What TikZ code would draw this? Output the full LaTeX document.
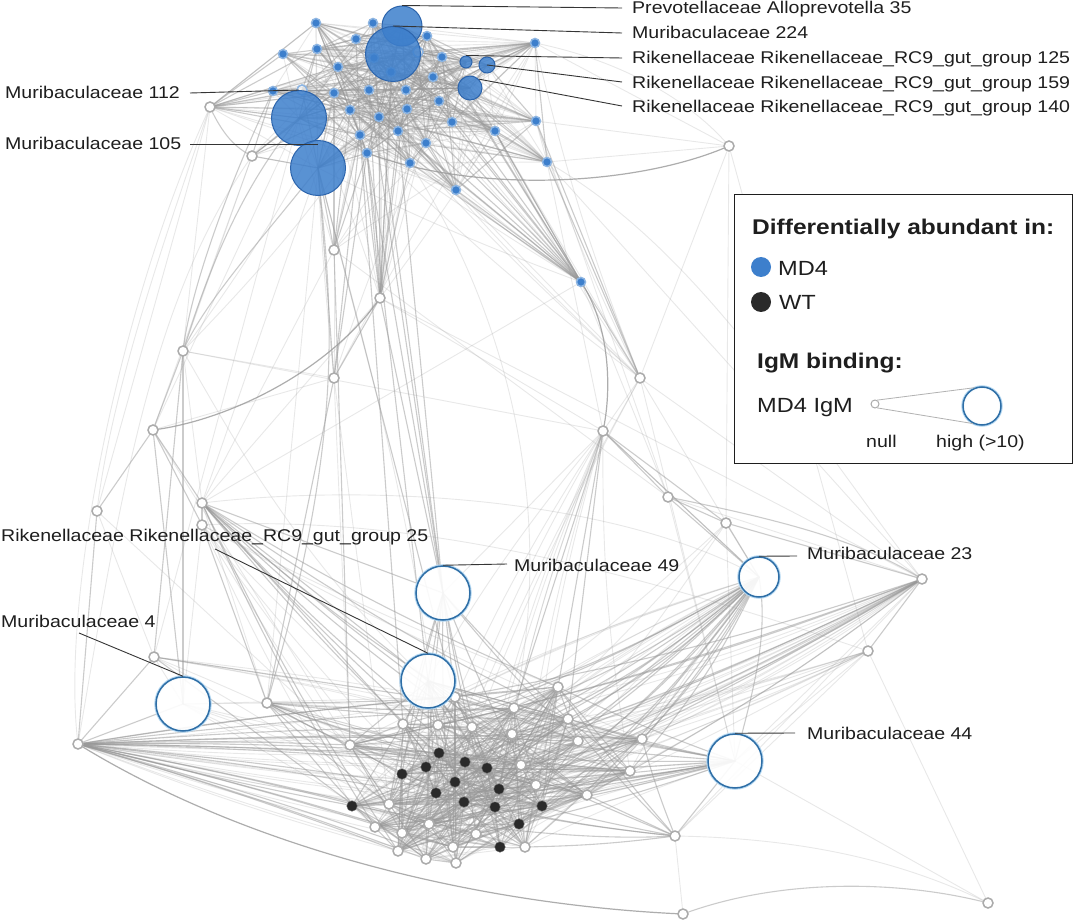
\documentclass[tikz,border=0pt]{standalone}
\usepackage{fontspec}
\setmainfont{Liberation Sans}
\newfontfamily\labfont{Liberation Sans}[FakeStretch=1.15]
\pgfdeclarelayer{bg}
\pgfdeclarelayer{edges}
\pgfsetlayers{bg,edges,main}
\definecolor{bfill}{HTML}{3D7FCC}
\definecolor{bedge}{HTML}{2C64AC}
\definecolor{bhalo}{HTML}{8DB5E2}
\definecolor{wring}{HTML}{2E6EA6}
\definecolor{wglow}{HTML}{B5D8F2}
\definecolor{ngray}{HTML}{ABABAB}
\definecolor{nblack}{HTML}{2A2A2A}
\definecolor{txt}{HTML}{1E1E1E}
\definecolor{egray}{HTML}{999999}
\tikzset{
  bsm/.style={circle, inner sep=0, minimum size=9pt, fill=bfill, draw=bhalo, line width=1.5pt},
  bbig/.style={circle, inner sep=0, fill=bfill, fill opacity=0.85, draw=bedge, line width=1pt},
  ring/.style={circle, inner sep=0, minimum size=10pt, fill=white, fill opacity=0.6, draw=bhalo, line width=1.6pt},
  wsm/.style={circle, inner sep=0, minimum size=10pt, fill=white, draw=ngray, line width=1.5pt},
  bk/.style={circle, inner sep=0, minimum size=10.5pt, fill=nblack, draw=black!60, line width=0.4pt},
  wbig/.style={circle, inner sep=0, fill=white, fill opacity=0.9, draw=wring, line width=1.5pt,
     preaction={draw=wglow, line width=3.5pt}},
  eA/.style={draw=egray, draw opacity=0.5, line width=1.1pt},
  eB/.style={draw=egray, draw opacity=0.22, line width=0.9pt},
  eC/.style={draw=egray, draw opacity=0.8, line width=1.2pt},
  lead/.style={draw=txt!90, line width=0.9pt},
  lab/.style={font=\labfont\fontsize{17}{19}\selectfont, text=txt, inner sep=0, anchor=base west},
  labL/.style={font=\labfont\fontsize{20.5}{24}\selectfont, text=txt, inner sep=0, anchor=base west},
  labB/.style={font=\labfont\bfseries\fontsize{21.3}{24}\selectfont, text=txt, inner sep=0, anchor=base west},
}
\newcommand{\myfan}[4]{%
  \foreach \k in {1,...,39}{%
    \pgfmathrandominteger{\rr}{1}{100}%
    \ifnum\rr<#2\relax \draw[#3] (#1.center) to[bend left=#4] (b\k.center);\fi
  }}
\newcommand{\myfanT}[4]{%
  \foreach \k in {1,...,39}{%
    \pgfmathrandominteger{\rr}{1}{100}%
    \ifnum\rr<#2\relax \draw[#3] (#1.center) to[bend left=#4] (t\k.center);\fi
  }}
\begin{document}
\begin{tikzpicture}[x=1pt,y=-1pt]
\begin{pgfonlayer}{bg}
\fill[white] (0,0) rectangle (1080,920);
\end{pgfonlayer}
\useasboundingbox (0,0) rectangle (1080,920);
\pgfmathsetseed{4242}

% ---------- top cluster ----------
\foreach \n/\x/\y in {1/316/23,2/373/23,3/427/36,4/535/43,5/283/54,6/317/49,7/356/39,8/338/67,
  9/374/58,10/391/72,11/442/57,12/433/77,13/273/91,14/334/93,15/369/90,16/406/90,17/439/101,
  18/350/110,19/379/117,20/407/109,21/452/122,22/495/131,23/536/121,24/360/135,25/398/131,
  26/426/143,27/367/153,28/410/163,29/547/162,30/456/190}
  \node[bsm] (t\n) at (\x,\y) {};
\node[bsm] (tf) at (581,282) {};
\node[ring] (t38) at (418,52) {};
\node[ring] (t39) at (302,90) {};
\node[bbig, minimum size=40pt] (t31) at (402,26) {};
\node[bbig, minimum size=55pt] (t32) at (393,54) {};
\node[bbig, minimum size=12pt] (t33) at (466,62) {};
\node[bbig, minimum size=16pt] (t34) at (487,65) {};
\node[bbig, minimum size=24pt] (t35) at (470,88) {};
\node[bbig, minimum size=55pt] (t36) at (299,118) {};
\node[bbig, minimum size=55pt] (t37) at (318,168) {};

% ---------- middle / outer white nodes ----------
\foreach \n/\x/\y in {1/210/107,2/252/156,3/729/146,4/334/250,5/380/298,6/183/351,7/334/378,
  8/153/430,9/640/378,10/603/431,11/97/511,12/202/503,13/202/525,14/668/497,15/726/523,
  16/922/579,17/868/651,18/154/657,19/267/703,20/78/744,21/675/836,22/683/914,23/988/903}
  \node[wsm] (w\n) at (\x,\y) {};

% ---------- bottom cluster ----------
\foreach \n/\x/\y in {1/558/687,2/455/697,3/514/708,4/403/724,5/438/725,6/472/727,7/568/719,
  8/512/734,9/350/745,10/578/741,11/642/739,12/521/765,13/536/785,14/587/795,15/630/771,
  16/389/804,17/375/827,18/429/824,19/402/833,20/476/834,21/398/851,22/453/847,23/426/859,
  24/456/863,25/525/847}
  \node[wsm] (b\n) at (\x,\y) {};
\foreach \n/\x/\y in {26/439/753,27/465/762,28/426/767,29/487/768,30/402/774,31/455/782,
  32/499/789,33/436/793,34/464/802,35/495/807,36/542/806,37/352/806,38/519/824,39/500/847}
  \node[bk] (b\n) at (\x,\y) {};

% big white circles
\node[wbig, minimum size=54pt] (m49) at (443,593) {};
\node[wbig, minimum size=54pt] (r25) at (428,681) {};
\node[wbig, minimum size=54pt] (m4) at (183,704) {};
\node[wbig, minimum size=40pt] (m23) at (759,577) {};
\node[wbig, minimum size=54pt] (m44) at (735,761) {};

% ---------- edges ----------
\begin{pgfonlayer}{edges}
% top cluster, dense
\foreach \i in {1,...,39}{\foreach \j in {1,...,39}{\ifnum\j>\i\relax
  \pgfmathrandominteger{\r}{1}{100}%
  \ifnum\r<24\relax\draw[eA](t\i.center)--(t\j.center);\else\ifnum\r<55\relax\draw[eB](t\i.center)--(t\j.center);\fi\fi
\fi}}
% bottom cluster, dense
\foreach \i in {1,...,39}{\foreach \j in {1,...,39}{\ifnum\j>\i\relax
  \pgfmathrandominteger{\r}{1}{100}%
  \ifnum\r<26\relax\draw[eA](b\i.center)--(b\j.center);\else\ifnum\r<56\relax\draw[eB](b\i.center)--(b\j.center);\fi\fi
\fi}}
% fans into the top cluster
\myfanT{tf}{25}{eB}{3}
\myfanT{w5}{20}{eB}{-2}
\myfanT{w4}{15}{eB}{2}
\myfanT{w1}{18}{eB}{0}
\myfanT{w2}{15}{eB}{0}
\myfanT{w6}{8}{eB}{-6}
\myfanT{w7}{8}{eB}{3}
\myfanT{w9}{8}{eB}{4}
% fans into bottom cluster
\myfan{w20}{50}{eA}{2}
\myfan{w20}{40}{eB}{-3}
\myfan{m23}{45}{eA}{8}
\myfan{m23}{30}{eB}{-5}
\myfan{w16}{40}{eB}{6}
\myfan{w16}{12}{eA}{4}
\myfan{m44}{35}{eA}{3}
\myfan{m44}{25}{eB}{-4}
\myfan{w18}{30}{eB}{3}
\myfan{w18}{12}{eA}{0}
\myfan{w19}{30}{eA}{-3}
\myfan{w19}{20}{eB}{3}
\myfan{w12}{20}{eA}{-4}
\myfan{r25}{45}{eA}{0}
\myfan{m49}{25}{eA}{-3}
\myfan{w10}{22}{eB}{-5}
\myfan{w21}{30}{eA}{3}
\myfan{w17}{18}{eB}{4}
\myfan{m4}{22}{eB}{0}
\myfan{w15}{18}{eB}{5}
\myfan{w13}{15}{eB}{-3}
\myfan{w9}{10}{eB}{-4}
\myfan{w7}{8}{eB}{0}
% top cluster to mid nodes
\foreach \a/\b in {w1/t5,w1/t13,w1/t6,w1/t36,w1/t14,w1/t8,w1/t39,w1/t18,w1/t1,w1/t24,
  w2/t36,w2/t37,w2/t13,w2/t14,w2/t18,w4/t37,w4/t24,w4/t27,w4/t18,w4/t14,
  w5/t15,w5/t19,w5/t24,w5/t27,w5/t25,w5/t28,w5/t16,w5/t10,w5/t32,w5/w7,
  tf/t11,tf/t12,tf/t17,tf/t21,tf/t22,tf/t26,tf/t28,tf/t30,tf/t20,tf/t16,tf/t25,tf/t3,tf/t35,tf/t19,
  w7/t27,w7/t24,w7/t37,w9/t29,w9/t23,w9/tf,w10/w14,w10/w15,w14/w15,w8/w6,w8/w11,w8/w12,
  w12/w13,w6/w18,w8/w13,w12/m49,w12/r25,w12/b4,w13/w19,w7/w19,w5/m49,t27/m49,t19/m49,
  t37/b2,t27/r25,t24/b4,t25/m49,t15/m49,w4/b9,m23/w14,m23/w15,m23/w10,m49/r25,m49/b2,
  w10/b1,w10/b3,w10/b7,w18/w20,w11/w20,w6/m4,w8/m4,m44/w21,w15/w16,w16/w17,w21/b14,w20/m4}
  \draw[eA] (\a.center) -- (\b.center);
\foreach \a/\b in {w5/w16,w4/w14,w12/tf,w6/w10,t29/w16,w3/w15,w3/t23,w3/t29,w3/t4,w3/w17,
  w9/w16,w9/m23,w10/m23,w14/w16,w8/b9,w11/b9,w6/w12,w2/w8,w1/w6,w1/w11,w16/w21,w17/w23,
  w17/w21,m44/w23,w21/w22,w17/m44,w10/m49,w11/w18,t37/w19,t36/w18,w7/b16,w4/w12,w5/w12,
  t30/w9,t29/w10,t23/w14,w2/w6,w5/w10,w9/m44,w4/w7,w7/w8,t37/w12,tf/w14,t22/w9,w3/w9,
  w14/m44,w15/m44,w16/m44,m4/w19,w18/m4,w13/m4,w12/w19,w9/w10,w6/w7,t36/w8}
  \draw[eB] (\a.center) -- (\b.center);
% curved connectors
\draw[eC] (w5.center) .. controls (330,370) and (230,420) .. (w8.center);
\draw[eC] (tf.center) .. controls (610,325) and (612,390) .. (w10.center);
\draw[eC] (t27.center) .. controls (480,195) and (640,185) .. (w3.center);
\draw[eC] (w20.center) .. controls (250,850) and (480,905) .. (w22.center);
\draw[eA] (w20.center) .. controls (300,800) and (520,845) .. (w21.center);
\draw[eA] (w22.center) .. controls (780,878) and (900,880) .. (w23.center);
\draw[eB] (w21.center) .. controls (800,838) and (900,860) .. (w23.center);
\draw[eB] (w12.center) .. controls (380,482) and (620,500) .. (m23.center);
\draw[eA] (m23.center) .. controls (770,640) and (750,700) .. (m44.center);
\draw[eA] (w14.center) .. controls (780,520) and (860,540) .. (w16.center);
\draw[eB] (w1.center) .. controls (120,300) and (60,600) .. (w20.center);
\draw[eB] (w1.center) .. controls (160,250) and (110,400) .. (w11.center);
\draw[eA] (w1.center) .. controls (225,140) and (240,150) .. (w2.center);
\draw[eA] (t36.center) .. controls (230,200) and (200,300) .. (w6.center);
\draw[eA] (t37.center) .. controls (270,230) and (205,300) .. (w6.center);
\draw[eA] (t13.center) .. controls (230,180) and (190,290) .. (w6.center);
\draw[eA] (t37.center) .. controls (330,300) and (350,420) .. (w19.center);
\draw[eB] (t37.center) .. controls (360,330) and (410,500) .. (b5.center);
\draw[eB] (t28.center) .. controls (500,300) and (560,500) .. (b3.center);
\draw[eB] (w6.center) .. controls (240,450) and (300,560) .. (r25.center);
\draw[eB] (w2.center) .. controls (150,300) and (120,500) .. (w20.center);
\draw[eB] (t29.center) .. controls (700,250) and (800,420) .. (w16.center);
\draw[eB] (w13.center) .. controls (400,515) and (600,560) .. (w17.center);
\draw[eB] (t4.center) .. controls (620,60) and (690,100) .. (w3.center);
\end{pgfonlayer}

% ---------- labels and leader lines ----------
\node[lab] (l35) at (632,14) {Prevotellaceae Alloprevotella 35};
\node[lab] (l224) at (632,39) {Muribaculaceae 224};
\node[lab] (l125) at (632,64) {Rikenellaceae Rikenellaceae\_RC9\_gut\_group 125};
\node[lab] (l159) at (632,89) {Rikenellaceae Rikenellaceae\_RC9\_gut\_group 159};
\node[lab] (l140) at (632,113) {Rikenellaceae Rikenellaceae\_RC9\_gut\_group 140};
\node[lab] (l112) at (5,99) {Muribaculaceae 112};
\node[lab] (l105) at (5,150) {Muribaculaceae 105};
\node[lab] (l25) at (1,541) {Rikenellaceae Rikenellaceae\_RC9\_gut\_group 25};
\node[lab] (l4) at (1,627) {Muribaculaceae 4};
\node[lab] (l49) at (514,571) {Muribaculaceae 49};
\node[lab] (l23) at (807,559) {Muribaculaceae 23};
\node[lab] (l44) at (807,739) {Muribaculaceae 44};

\coordinate (k35) at (622,8);
\coordinate (k224) at (622,33);
\coordinate (k125) at (622,58);
\coordinate (k159) at (622,82);
\coordinate (k140) at (622,106);
\coordinate (k112) at (190,93);
\coordinate (k105) at (190,144);
\coordinate (k25) at (215,549);
\coordinate (k4) at (79,633);
\coordinate (k49) at (507,564);
\coordinate (k23) at (797,556);
\coordinate (k44) at (795,733);
\draw[lead] (t31.north) -- (k35);
\draw[lead] (t32.north) -- (k224);
\draw[lead] (t33.north) -- (k125);
\draw[lead] (t34.center) -- (k159);
\draw[lead] (t35.45) -- (k140);
\draw[lead] (k112) -- (t36.north);
\draw[lead] (k105) -- ([yshift=-4pt]t37.north);
\draw[lead] (k25) -- (r25.north);
\draw[lead] (k4) -- (m4.north);
\draw[lead] (m49.north) -- (k49);
\draw[lead] (m23.north) -- (k23);
\draw[lead] (m44.north) -- (k44);

% ---------- legend ----------
\node[draw=txt, line width=0.9pt, fill=white, minimum width=338pt, minimum height=269pt,
  anchor=north west, inner sep=0] (leg) at (734,194) {};
\node[labB] (lt) at (752,235) {Differentially abundant in:};
\node[circle, fill=bfill, minimum size=20pt, inner sep=0] (ld1) at (761,267) {};
\node[labL] (lmd4) at (778,276) {MD4};
\node[circle, fill=nblack, minimum size=20pt, inner sep=0] (ld2) at (761,302) {};
\node[labL] (lwt) at (779,310) {WT};
\node[labB] (lig) at (757,368) {IgM binding:};
\node[labL] (lmi) at (757,412) {MD4 IgM};
\node[wsm, minimum size=8pt, line width=1pt] (lg1) at (875,404) {};
\node[wbig, minimum size=38pt] (lg2) at (982,406) {};
\draw[draw=black!30, line width=0.8pt] (lg1.60) -- (lg2.112);
\draw[draw=black!30, line width=0.8pt] (lg1.-60) -- (lg2.-117);
\node[lab] (lnull) at (866,447) {null};
\node[lab] (lhigh) at (936,447) {high (>10)};
\end{tikzpicture}
\end{document}
